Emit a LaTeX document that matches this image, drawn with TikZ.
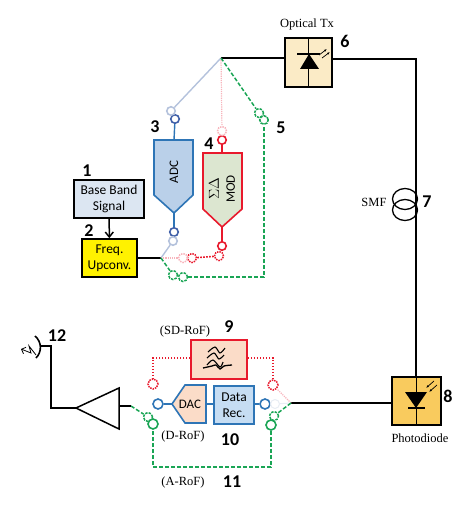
\documentclass[tikz,border=0pt]{standalone}
\usepackage{fontspec}
\setmainfont{Liberation Serif}
\newfontfamily\calfont{Carlito}
\usepackage{xcolor}
\usetikzlibrary{calc, arrows.meta}

\definecolor{adcblue}{HTML}{2E75B6}
\definecolor{adcfill}{HTML}{BAD0E9}
\definecolor{modred}{HTML}{E8192C}
\definecolor{modfill}{HTML}{DCE6D0}
\definecolor{swgreen}{HTML}{1AA555}
\definecolor{swpink}{HTML}{F7B4BC}
\definecolor{swblue}{HTML}{B4C2DC}
\definecolor{portblue}{HTML}{3F5FA8}
\definecolor{txfill}{HTML}{FBEBC6}
\definecolor{pdfill}{HTML}{F9CB5E}
\definecolor{bbfill}{HTML}{DCE6F2}
\definecolor{sdfill}{HTML}{FBDCC8}
\definecolor{recfill}{HTML}{C6DDF3}

\tikzset{
  fiber/.style={line width=1.7pt, black},
  boxb/.style={draw, line width=1.6pt, inner sep=0pt, align=center, font=\calfont\fontsize{13.5}{16}\selectfont},
  num/.style={font=\calfont\bfseries\fontsize{18}{18}\selectfont, inner sep=0pt},
  caplabel/.style={font=\fontsize{12.5}{14}\selectfont, inner sep=0pt},
  port/.style={circle, draw=#1, line width=1.6pt, fill=white, minimum size=8.5pt, inner sep=0pt},
  dotport/.style={circle, draw=#1, line width=1.5pt, densely dotted, minimum size=9pt, inner sep=0pt},
  dashport/.style={circle, draw=swgreen, line width=1.5pt, dash pattern=on 2.5pt off 1.2pt, minimum size=9pt, inner sep=0pt},
  greenline/.style={swgreen, line width=1.5pt, dash pattern=on 4pt off 2pt},
  redline/.style={modred, line width=1.6pt, dash pattern=on 1.6pt off 1.4pt},
  pinkline/.style={swpink, line width=1.2pt, densely dotted},
}

\begin{document}
\begin{tikzpicture}[x=1pt, y=-1pt]
  \useasboundingbox (0,0) rectangle (474,508);

  % optical part
  \node[boxb, fill=txfill, minimum width=47pt, minimum height=49pt] (tx) at (308.5,62.5) {};
  \node[boxb, fill=pdfill, minimum width=49pt, minimum height=48pt] (pd) at (416.5,401) {};
  \coordinate (top) at (221,58);
  \coordinate (corner) at (416,59);
  \coordinate (rx) at (291,403);
  \draw[fiber] (top) -- (tx.west |- top);
  \draw[fiber] (tx.east |- corner) -- (corner) -- (pd.north -| corner);
  \draw[fiber] (rx) -- (pd.west |- rx);

  % laser diode
  \draw[line width=1pt] (tx.north) -- (tx.south);
  \draw[line width=1.3pt] (297,54) -- (320,54);
  \fill (300,69) -- (319,69) -- (309,54) -- cycle;
  \draw[line width=0.7pt, -{Latex[length=3pt]}] (319,55) -- (327,49);
  \draw[line width=0.7pt, -{Latex[length=3pt]}] (322,58) -- (330,52);

  % photodiode
  \draw[line width=1pt] (pd.north) -- (pd.south);
  \fill (405,392) -- (427,392) -- (416,408) -- cycle;
  \draw[line width=1.3pt] (408,408) -- (425,408);
  \draw[line width=0.7pt, -{Latex[length=3pt]}] (434,381) -- (426,388);
  \draw[line width=0.7pt, -{Latex[length=3pt]}] (437,385) -- (429,392);

  % fibre coil
  \draw[line width=1.3pt] (405,199) ellipse (12.5 and 10.5);
  \draw[line width=1.3pt] (405,210) ellipse (12.5 and 10.5);

  % base band and upconverter
  \node[boxb, fill=bbfill, minimum width=70pt, minimum height=38pt] (bb) at (109,199) {Base Band\\Signal};
  \node[boxb, fill=yellow, minimum width=55pt, minimum height=38pt] (up) at (109.5,258) {Freq.\\Upconv.};
  \draw[line width=1.5pt, -{Straight Barb[length=5pt, width=8pt]}] (bb) -- (up);
  \coordinate (low) at (161,258);
  \draw[line width=1.4pt] (up) -- (low);

  % ADC
  \draw[adcblue, fill=adcfill, line width=1.6pt] (154,140) -- (193,140) -- (193,195) -- (174,213) -- (154,195) -- cycle;
  \node[rotate=90, inner sep=0pt, font=\calfont\fontsize{13}{14}\selectfont] (adc) at (174,172) {ADC};
  \coordinate (adcn) at (174,140);
  \coordinate (adcs) at (174,213);
  \node[port=portblue] (adcin) at (175,119) {};
  \node[port=portblue] (adcout) at (174,232) {};
  \node[port=swblue] (swa) at (171,111) {};
  \node[port=swblue] (swb) at (173,241) {};
  \draw[adcblue, line width=1.4pt] (adcin) -- (adcn);
  \draw[adcblue, line width=1.4pt] (adcs) -- (adcout);
  \draw[swblue, line width=1.4pt] (top) -- (swa);
  \draw[swblue, line width=1.4pt] (low) -- (swb);

  % sigma delta
  \draw[modred, fill=modfill, line width=1.6pt] (203,153) -- (242,153) -- (242,209) -- (222,227) -- (203,209) -- cycle;
  \node[rotate=90, inner sep=0pt, align=center, font=\calfont\fontsize{13}{16}\selectfont] (mod) at (222,189) {\fontsize{14}{16}\selectfont$\Sigma\Delta$\\MOD};
  \coordinate (modn) at (222,153);
  \coordinate (mods) at (222,227);
  \node[port=modred] (modin) at (222,140) {};
  \node[port=modred] (modout) at (222,246) {};
  \draw[modred, line width=1.4pt] (modin) -- (modn);
  \draw[modred, line width=1.4pt] (mods) -- (modout);
  \node[dotport=swpink] (swc) at (222,131) {};
  \draw[pinkline] (top) -- (swc);
  \node[dotport=modred] (swd) at (219,256) {};
  \node[dotport=modred] (swe) at (192,258) {};
  \node[dotport=swpink] (swf) at (183,258) {};
  \draw[redline] (swd) -- (swe);
  \draw[pinkline] (low) -- (swf);

  % analog bypass
  \node[dashport] (swg) at (259,113) {};
  \node[port=swgreen, dash pattern=on 3pt off 1pt] (swh) at (264,120) {};
  \node[dashport] (swi) at (173,275) {};
  \node[dashport] (swj) at (183,277) {};
  \draw[greenline] (top) -- (swg);
  \draw[greenline] (low) -- (swi);
  \draw[greenline] (swj) -- (264,277) -- (swh);

  % receiver
  \node[boxb, draw=modred, fill=sdfill, minimum width=56pt, minimum height=39pt] (sd) at (219,359.5) {};
  \draw[line width=1.1pt] plot[smooth] coordinates {(208,352) (215,347) (220,353) (225,348)};
  \draw[line width=1.1pt] plot[smooth] coordinates {(207,358) (214,353) (219,359) (224,355)};
  \draw[line width=1.1pt] plot[smooth] coordinates {(207,365) (213,360) (220,367) (223,362)};
  \draw[line width=1.3pt] plot[smooth] coordinates {(203,368) (212,366) (216,365) (220,369) (224,366) (232,365)};
  \node[dotport=modred, minimum size=10pt] (sdl) at (153,384) {};
  \node[dotport=modred, minimum size=10pt] (sdr) at (273,385) {};
  \draw[redline] (sd.west |- 0,358) -| (sdl);
  \draw[redline] (sd.east |- 0,358) -| (sdr);

  \draw[adcblue, fill=sdfill, line width=1.6pt] (172,404) -- (185,385) -- (206,385) -- (206,423) -- (185,423) -- cycle;
  \node[inner sep=0pt, font=\calfont\fontsize{13}{14}\selectfont] (dac) at (190,404) {DAC};
  \node[boxb, draw=adcblue, fill=recfill, minimum width=40pt, minimum height=38pt] (rec) at (234,405) {Data\\Rec.};
  \coordinate (dace) at (206,404);
  \coordinate (dacw) at (172,404);
  \node[port=adcblue, minimum size=10pt] (dacin) at (158,404) {};
  \node[port=adcblue, minimum size=10pt] (recout) at (265,404) {};
  \draw[adcblue, line width=1.4pt] (dacin) -- (dacw);
  \draw[adcblue, line width=1.4pt] (dace) -- (rec.west |- dace);
  \draw[adcblue, line width=1.4pt] (rec.east |- recout) -- (recout);
  \node[port=swblue!30!white, minimum size=9pt, line width=1pt] (swk) at (275,404) {};
  \draw[swblue!30!white, line width=1pt] (rx) -- (swk);
  \draw[pinkline] (rx) -- (sdr);
  \node[dashport] (swl) at (274,416) {};
  \node[port=swgreen, minimum size=10pt] (swm) at (271,425) {};
  \node[dashport] (swn) at (148,417) {};
  \node[port=swgreen, minimum size=10pt] (swo) at (153,424) {};
  \draw[greenline] (rx) -- (swl);
  \coordinate (ampin) at (131,406);
  \draw[greenline] (ampin) -- (swn);
  \draw[greenline] (swm) -- (271,467) -- (153,467) -- (swo);

  % amplifier and antenna
  \draw[line width=1.5pt] (76,408) -- (119,388) -- (119,429) -- cycle;
  \coordinate (amptip) at (76,408);
  \coordinate (ampout) at (119,406);
  \coordinate (ant) at (40,346);
  \draw[fiber] (ampout) -- (ampin);
  \draw[fiber] (amptip) -- (51,408) -- (51,346) -- (ant);
  \draw[line width=1.6pt] (35,336) .. controls (42,342) and (42,352) .. (36,358);
  \draw[line width=0.8pt, -{Straight Barb[length=3.5pt]}] (36,355) -- (29,346) -- (31,353) -- (21,349);

  % labels
  \node[caplabel] (txlab) at (307,24) {Optical Tx};
  \node[caplabel] (smflab) at (374,202) {SMF};
  \node[caplabel] (pdlab) at (420,438) {Photodiode};
  \node[caplabel] (sdlab) at (185,331) {(SD-RoF)};
  \node[caplabel] (dlab) at (183,436) {(D-RoF)};
  \node[caplabel] (alab) at (183,482) {(A-RoF)};
  \node[num] (n1) at (87,171) {1};
  \node[num] (n2) at (89,231) {2};
  \node[num] (n3) at (155,127) {3};
  \node[num] (n4) at (209,144) {4};
  \node[num] (n5) at (281,128) {5};
  \node[num] (n6) at (345,41) {6};
  \node[num] (n7) at (427,202) {7};
  \node[num] (n8) at (448,396) {8};
  \node[num] (n9) at (229,327) {9};
  \node[num] (n10) at (230,440) {10};
  \node[num] (n11) at (232,482) {11};
  \node[num] (n12) at (57,336) {12};
\end{tikzpicture}
\end{document}
